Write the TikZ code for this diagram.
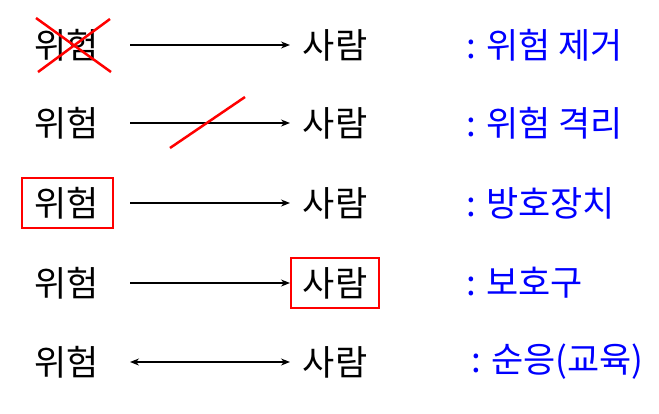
\documentclass[tikz,border=0pt]{standalone}
\usepackage{fontspec}
\newfontfamily\kr{Noto Sans CJK KR}
\usetikzlibrary{arrows.meta}
\begin{document}
\begin{tikzpicture}[x=1pt,y=-1pt,
  txt/.style={font=\kr\fontsize{35}{40}\selectfont,inner sep=0pt},
  lbl/.style={txt,text=blue,anchor=west},
  arr/.style={-{Stealth[length=9pt,width=7pt]},line width=1.3pt},
  redln/.style={red,line width=2.5pt},
  redbox/.style={draw=red,line width=2.5pt}]
\useasboundingbox (0,0) rectangle (659,413);
\foreach \i/\y in {1/45,2/123,3/203,4/283,5/362}{
  \node[txt] (h\i) at (67,\y) {위험};
  \node[txt] (s\i) at (335,\y) {사람};
  \coordinate (a\i) at (130,\y);
  \coordinate (b\i) at (290,\y);
}
\foreach \i in {1,2,3,4}{\draw[arr] (a\i) -- (b\i);}
\draw[{Stealth[length=9pt,width=7pt]}-{Stealth[length=9pt,width=7pt]},line width=1.3pt] (a5) -- (b5);
\node[lbl] (l1) at (466,45) {: 위험 제거};
\node[lbl] (l2) at (466,123) {: 위험 격리};
\node[lbl] (l3) at (466,203) {: 방호장치};
\node[lbl] (l4) at (466,283) {: 보호구};
\node[lbl] (l5) at (471,362) {: 순응(교육)};
\draw[redln] (36,18) -- (111,72);
\draw[redln] (38,72) -- (110,19);
\draw[redln] (170,148) -- (245,97);
\draw[redbox] (22,178) rectangle (113,228);
\draw[redbox] (291,258) rectangle (379,308);
\end{tikzpicture}
\end{document}
